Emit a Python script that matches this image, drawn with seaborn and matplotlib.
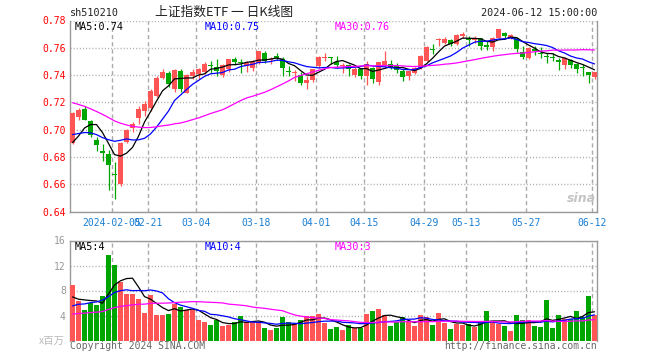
import numpy as np
import pandas as pd
import matplotlib
matplotlib.use("Agg")
import matplotlib.pyplot as plt
import seaborn as sns

# daily candles 2024-01-25 .. 2024-06-12 (88 trading days)
opens = [0.6900, 0.7094, 0.7148, 0.7062, 0.6927, 0.6847, 0.6822, 0.6675, 0.6602, 0.6911,
         0.7013, 0.7087, 0.7135, 0.7155, 0.7246, 0.7379, 0.7412, 0.7299, 0.7429, 0.7271,
         0.7393, 0.7405, 0.7422, 0.7474, 0.7459, 0.7398, 0.7447, 0.7521, 0.7493, 0.7466,
         0.7454, 0.7491, 0.7565, 0.7510, 0.7537, 0.7521, 0.7427, 0.7415, 0.7398, 0.7339,
         0.7363, 0.7466, 0.7525, 0.7530, 0.7498, 0.7468, 0.7471, 0.7398, 0.7447, 0.7393,
         0.7449, 0.7349, 0.7471, 0.7479, 0.7466, 0.7429, 0.7393, 0.7418, 0.7454, 0.7503,
         0.7594, 0.7657, 0.7638, 0.7657, 0.7631, 0.7684, 0.7662, 0.7660, 0.7670, 0.7620,
         0.7606, 0.7670, 0.7712, 0.7670, 0.7670, 0.7572, 0.7528, 0.7589, 0.7560, 0.7538,
         0.7530, 0.7510, 0.7474, 0.7508, 0.7479, 0.7457, 0.7425, 0.7385]
closes = [0.7124, 0.7141, 0.7074, 0.6959, 0.6888, 0.6830, 0.6744, 0.6665, 0.6903, 0.6994,
          0.7043, 0.7153, 0.7185, 0.7282, 0.7381, 0.7422, 0.7335, 0.7440, 0.7299, 0.7398,
          0.7422, 0.7442, 0.7484, 0.7467, 0.7429, 0.7471, 0.7521, 0.7496, 0.7488, 0.7491,
          0.7496, 0.7576, 0.7503, 0.7520, 0.7528, 0.7454, 0.7420, 0.7422, 0.7344, 0.7363,
          0.7442, 0.7532, 0.7530, 0.7525, 0.7471, 0.7474, 0.7447, 0.7447, 0.7393, 0.7479,
          0.7368, 0.7498, 0.7503, 0.7459, 0.7437, 0.7385, 0.7429, 0.7454, 0.7540, 0.7606,
          0.7586, 0.7662, 0.7668, 0.7631, 0.7694, 0.7699, 0.7655, 0.7666, 0.7613, 0.7606,
          0.7670, 0.7736, 0.7687, 0.7692, 0.7589, 0.7532, 0.7601, 0.7576, 0.7553, 0.7531,
          0.7524, 0.7496, 0.7523, 0.7471, 0.7447, 0.7452, 0.7400, 0.7422]
highs = [0.7130, 0.7160, 0.7172, 0.7074, 0.6947, 0.6897, 0.6854, 0.6761, 0.6908, 0.7006,
         0.7055, 0.7172, 0.7209, 0.7295, 0.7393, 0.7446, 0.7427, 0.7442, 0.7447, 0.7405,
         0.7447, 0.7454, 0.7496, 0.7503, 0.7521, 0.7484, 0.7521, 0.7532, 0.7515, 0.7503,
         0.7508, 0.7576, 0.7576, 0.7535, 0.7559, 0.7535, 0.7470, 0.7437, 0.7422, 0.7393,
         0.7447, 0.7540, 0.7559, 0.7535, 0.7540, 0.7491, 0.7479, 0.7459, 0.7454, 0.7503,
         0.7462, 0.7498, 0.7576, 0.7508, 0.7491, 0.7442, 0.7429, 0.7462, 0.7545, 0.7613,
         0.7631, 0.7675, 0.7679, 0.7668, 0.7699, 0.7718, 0.7684, 0.7689, 0.7670, 0.7650,
         0.7679, 0.7740, 0.7719, 0.7699, 0.7679, 0.7613, 0.7606, 0.7613, 0.7606, 0.7565,
         0.7565, 0.7528, 0.7532, 0.7515, 0.7491, 0.7479, 0.7425, 0.7422]
lows = [0.6895, 0.7074, 0.7069, 0.6947, 0.6841, 0.6768, 0.6555, 0.6494, 0.6589, 0.6903,
        0.6981, 0.7038, 0.7099, 0.7135, 0.7240, 0.7368, 0.7310, 0.7275, 0.7275, 0.7266,
        0.7368, 0.7368, 0.7405, 0.7418, 0.7393, 0.7385, 0.7422, 0.7471, 0.7418, 0.7422,
        0.7429, 0.7479, 0.7491, 0.7479, 0.7510, 0.7393, 0.7393, 0.7356, 0.7324, 0.7300,
        0.7349, 0.7454, 0.7503, 0.7479, 0.7460, 0.7418, 0.7393, 0.7388, 0.7374, 0.7324,
        0.7339, 0.7324, 0.7454, 0.7442, 0.7418, 0.7356, 0.7363, 0.7405, 0.7442, 0.7503,
        0.7552, 0.7616, 0.7626, 0.7613, 0.7623, 0.7670, 0.7611, 0.7635, 0.7583, 0.7583,
        0.7576, 0.7670, 0.7662, 0.7662, 0.7572, 0.7515, 0.7515, 0.7547, 0.7528, 0.7491,
        0.7503, 0.7435, 0.7447, 0.7454, 0.7418, 0.7393, 0.7339, 0.7368]
# volume, millions
volumes = [8.85, 6.29, 4.85, 5.97, 5.65, 7.09, 13.65, 12.05, 9.33, 7.41,
           7.41, 6.61, 4.37, 7.25, 4.05, 4.05, 4.21, 5.87, 5.39, 4.85,
           4.85, 3.25, 2.93, 2.45, 3.36, 2.35, 2.45, 2.93, 3.89, 2.93,
           2.93, 2.93, 1.97, 1.65, 1.97, 3.73, 2.93, 2.61, 3.25, 3.89,
           3.89, 4.21, 2.77, 1.81, 2.13, 1.65, 2.45, 2.03, 2.03, 4.21,
           4.69, 5.01, 4.05, 2.29, 2.99, 3.73, 2.99, 2.29, 4.05, 3.73,
           2.45, 4.37, 2.77, 1.81, 2.61, 2.45, 2.61, 2.13, 3.09, 4.69,
           3.09, 2.61, 2.29, 1.49, 4.05, 3.25, 3.25, 2.29, 2.13, 6.45,
           1.97, 4.05, 3.41, 3.41, 4.69, 3.73, 7.09, 4.05]

# 29 days before the window, estimated from where the MA lines start
close_before = [0.752, 0.750, 0.749, 0.748, 0.746, 0.744, 0.742, 0.740,
                0.738, 0.735, 0.732, 0.729, 0.726, 0.723, 0.720, 0.718, 0.716, 0.713,
                0.705, 0.703, 0.706, 0.700, 0.698, 0.702, 0.705,
                0.690, 0.678, 0.683, 0.689]
vol_before = [3.2, 3.5, 3.0, 3.8, 4.1, 3.4, 3.6, 3.3, 3.9, 3.5,
              3.7, 4.0, 3.2, 3.6, 3.8, 3.4, 3.9, 3.5, 3.7, 3.3,
              3.6, 4.4, 3.9, 4.5, 4.1, 8.1, 5.4, 6.5, 6.0]

tick_pos = [7, 13, 21, 31, 41, 49, 59, 66, 76, 87]
tick_labels = ["2024-02-05", "02-21", "03-04", "03-18", "04-01",
               "04-15", "04-29", "05-13", "05-27", "06-12"]
price_ticks = [0.64, 0.66, 0.68, 0.70, 0.72, 0.74, 0.76, 0.78]
vol_ticks = [4, 8, 12, 16]

UP = "#ff5555"
DOWN = "#00a600"
GRID = "#aaaaaa"
FRAME = "#999999"

sns.set_style("white")
plt.rcParams['font.family'] = ['DejaVu Sans Mono', 'Noto Sans CJK SC']
plt.rcParams['lines.scale_dashes'] = False
CJK = ['Noto Sans CJK SC', 'DejaVu Sans']

W, H = 660, 360
def fx(px):
    return px / W
def fy(py):
    return 1 - py / H

n = len(closes)
x = np.arange(n) + 5 / 12
o = np.array(opens); c = np.array(closes)
colors = [UP if cc >= oo else DOWN for oo, cc in zip(opens, closes)]

def ma(prev, vals, k):
    s = pd.Series(list(prev) + list(vals)).rolling(k).mean().to_numpy()
    return s[len(prev):]

fig = plt.figure(figsize=(6.6, 3.6), dpi=100)
ax = fig.add_axes([fx(70), fy(211.5), (597.3 - 70) / W, (211.5 - 20.5) / H])
axv = fig.add_axes([fx(70), fy(340.5), (597.3 - 70) / W, (340.5 - 240.5) / H])

# price panel
ax.vlines(x, lows, highs, colors=colors, lw=0.9, zorder=3)
body = np.maximum(np.abs(c - o), 0.0006)
ax.bar(x, body, bottom=np.minimum(o, c), width=5 / 6, color=colors, lw=0, zorder=4)
sns.lineplot(x=x, y=ma(close_before, closes, 5), ax=ax, color="black", lw=0.9, zorder=5)
sns.lineplot(x=x, y=ma(close_before, closes, 10), ax=ax, color="#0000ff", lw=0.9, zorder=5)
sns.lineplot(x=x, y=ma(close_before, closes, 30), ax=ax, color="#ff00ff", lw=0.9, zorder=5)

# volume panel
axv.bar(x, volumes, width=5 / 6, color=colors, lw=0, zorder=3)
sns.lineplot(x=x, y=ma(vol_before, volumes, 5), ax=axv, color="black", lw=0.9, zorder=5)
sns.lineplot(x=x, y=ma(vol_before, volumes, 10), ax=axv, color="#0000ff", lw=0.9, zorder=5)
sns.lineplot(x=x, y=ma(vol_before, volumes, 30), ax=axv, color="#ff00ff", lw=0.9, zorder=5)

for a in (ax, axv):
    a.set_xlim(0, 87.88)
    a.set_xticks(tick_pos)
    a.grid(axis='x', ls=(0, (3, 2.2)), color=GRID, lw=1)
    a.grid(axis='y', ls=(0, (0.75, 1.5)), color=GRID, lw=1)
    a.set_axisbelow(True)
    for s in a.spines.values():
        s.set_color(FRAME)
        s.set_linewidth(1)
    a.set_xlabel("")
    a.set_ylabel("")

ax.set_ylim(0.64, 0.78)
ax.set_yticks(price_ticks)
ax.set_yticklabels(["%.2f" % v for v in price_ticks], color="#ff0000", fontsize=7)
ax.set_xticklabels(tick_labels, color="#1a7fd4", fontsize=7)
ax.tick_params(axis='y', length=0, pad=3)
ax.tick_params(axis='x', length=2, color=FRAME, pad=3)
ax.spines['top'].set_visible(False)

axv.set_ylim(0, 16)
axv.set_yticks(vol_ticks)
axv.set_yticklabels([str(v) for v in vol_ticks], color="#999999", fontsize=7)
axv.set_xticklabels([])
axv.tick_params(axis='both', length=0, pad=3)
axv.spines['bottom'].set_visible(False)

# header
fig.text(fx(70), fy(12.5), "sh510210", fontsize=7.3, color="#222222", ha="left", va="center")
fig.text(fx(224), fy(12.5), "上证指数ETF 一 日K线图", family=CJK, fontsize=9.2,
         color="#222222", ha="center", va="center")
fig.text(fx(597), fy(12.5), "2024-06-12 15:00:00", fontsize=7.3, color="#222222",
         ha="right", va="center")

# MA legends
for px, txt, col in [(75, "MA5:0.74", "black"), (205, "MA10:0.75", "#0000ff"),
                     (335, "MA30:0.76", "#ff00ff")]:
    fig.text(fx(px), fy(26.5), txt, fontsize=7.3, color=col, ha="left", va="center")
for px, txt, col in [(75, "MA5:4", "black"), (205, "MA10:4", "#0000ff"),
                     (335, "MA30:3", "#ff00ff")]:
    fig.text(fx(px), fy(247), txt, fontsize=7.3, color=col, ha="left", va="center")

# watermark and footer
fig.text(fx(581), fy(198), "sina", family="DejaVu Sans", fontsize=9, color="#c4c4c4",
         fontweight="bold", style="italic", ha="center", va="center")
fig.text(fx(65), fy(341), "x百万", family=CJK, fontsize=7.5, color="#bbbbbb",
         ha="right", va="center")
fig.text(fx(70), fy(346), "Copyright 2024 SINA.COM", fontsize=7, color="#666666",
         ha="left", va="center")
fig.text(fx(597), fy(346), "http://finance.sina.com.cn", fontsize=7, color="#666666",
         ha="right", va="center")

fig.savefig("out.png", dpi=100)
